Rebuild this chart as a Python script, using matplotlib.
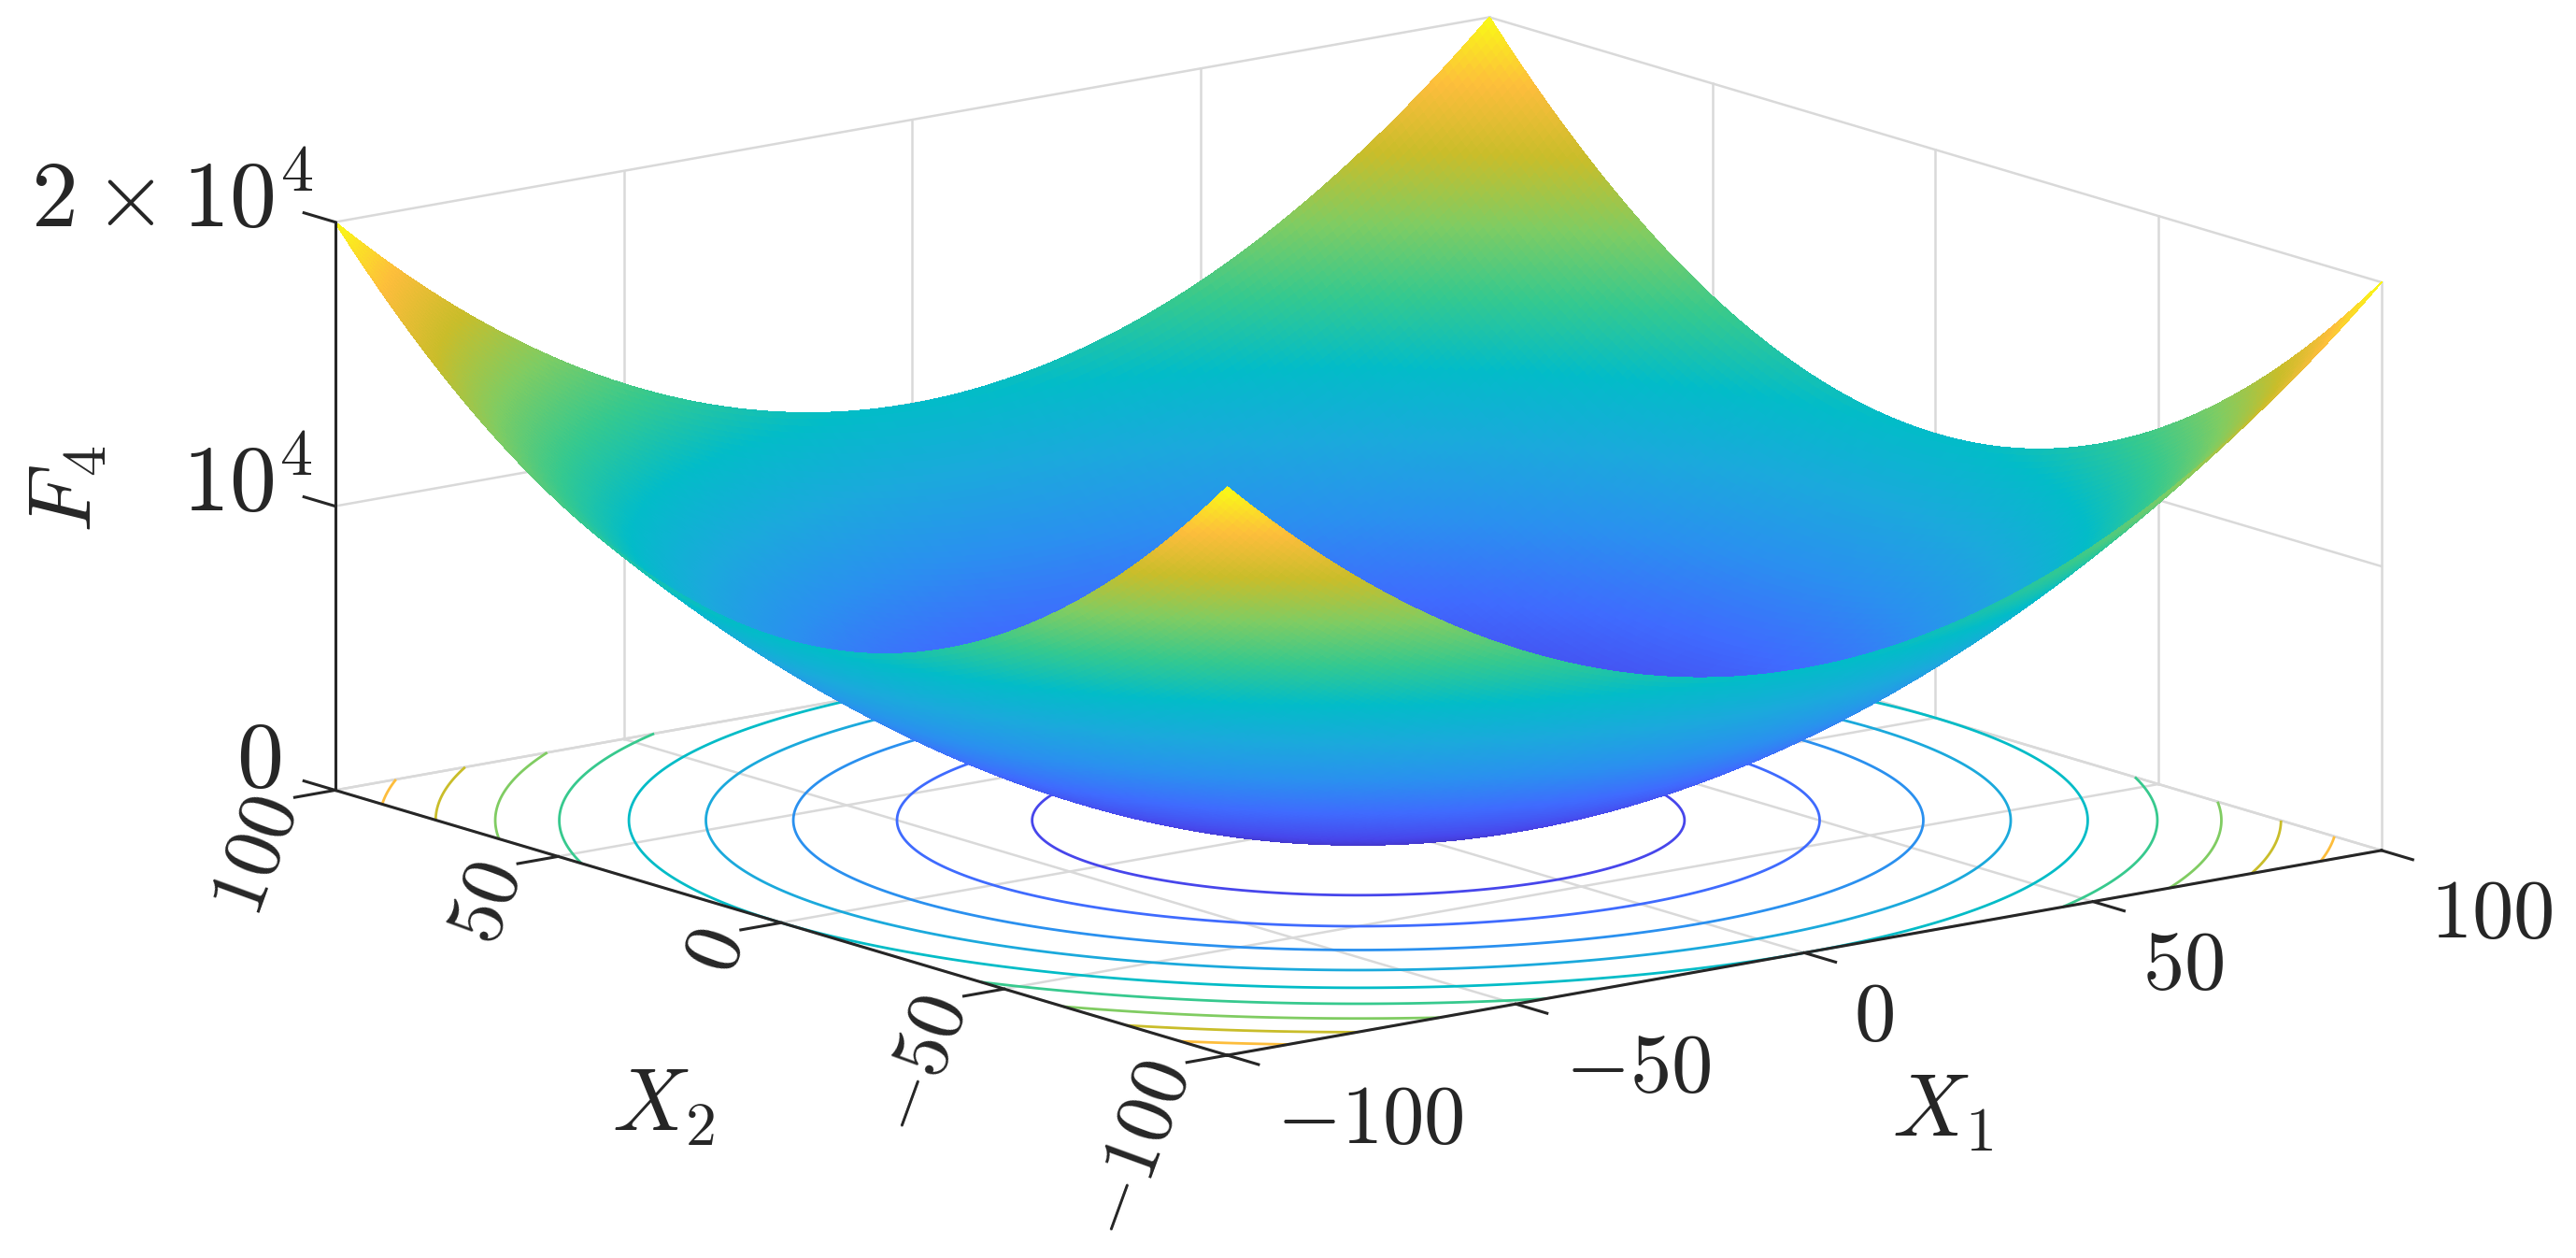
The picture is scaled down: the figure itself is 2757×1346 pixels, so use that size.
import numpy as np
import matplotlib
matplotlib.use('Agg')
import matplotlib.pyplot as plt
from matplotlib.colors import LinearSegmentedColormap, Normalize
from mpl_toolkits.mplot3d import proj3d

plt.rcParams['mathtext.fontset'] = 'cm'
plt.rcParams['font.family'] = 'DejaVu Serif'

# F4 along one axis, from the centre out to the edge, one value per unit
half_profile = [0, 1, 4, 9, 16, 25, 36, 49, 64, 81, 100, 121, 144, 169, 196, 225, 256, 289, 324, 361,
                400, 441, 484, 529, 576, 625, 676, 729, 784, 841, 900, 961, 1024, 1089, 1156, 1225,
                1296, 1369, 1444, 1521, 1600, 1681, 1764, 1849, 1936, 2025, 2116, 2209, 2304, 2401,
                2500, 2601, 2704, 2809, 2916, 3025, 3136, 3249, 3364, 3481, 3600, 3721, 3844, 3969,
                4096, 4225, 4356, 4489, 4624, 4761, 4900, 5041, 5184, 5329, 5476, 5625, 5776, 5929,
                6084, 6241, 6400, 6561, 6724, 6889, 7056, 7225, 7396, 7569, 7744, 7921, 8100, 8281,
                8464, 8649, 8836, 9025, 9216, 9409, 9604, 9801, 10000]

contour_levels = [2000, 4000, 6000, 8000, 10000, 12000, 14000, 16000, 18000]
x_ticks = [-100, -50, 0, 50, 100]
y_ticks = [-100, -50, 0, 50, 100]
z_ticks = [0, 10000, 20000]
x_labels = [r'$-100$', r'$-50$', r'$0$', r'$50$', r'$100$']
y_labels = [r'$-100$', r'$-50$', r'$0$', r'$50$', r'$100$']
z_labels = [r'$0$', r'$10^4$', r'$2\times 10^4$']

parula_colors = ['#3e26a8', '#4746eb', '#3f6bfe', '#2a90ef', '#1ba9dc', '#02bcc8',
                 '#36c98e', '#80cc62', '#c9bd2a', '#fdbd3c', '#f9fb15']
parula = LinearSegmentedColormap.from_list('parula', parula_colors, N=512)

half_coords = np.arange(len(half_profile))
coords = np.concatenate([-half_coords[:0:-1], half_coords])
profile = np.array(half_profile[:0:-1] + half_profile)
X, Y = np.meshgrid(coords, coords)
Z = profile[None, :] + profile[:, None]
Z_cell = (Z[:-1, :-1] + Z[1:, :-1] + Z[:-1, 1:] + Z[1:, 1:]) / 4
norm = Normalize(0, 20000)

W, H = 2757, 1346
fig = plt.figure(figsize=(W / 100, H / 100), dpi=100)
# 3D axes stay square, so give them a square bigger than the figure height
ax = fig.add_axes([38 / W, (H - W) / 2 / H + 62 / H, 1.0, W / H],
                  projection='3d', proj_type='ortho', computed_zorder=False)
ax.view_init(elev=13.27, azim=-127.7)
ax.set_box_aspect((1, 1, 0.4), zoom=0.808)
ax.set_xlim(-100, 100, view_margin=0)
ax.set_ylim(-100, 100, view_margin=0)
ax.set_zlim(0, 20000, view_margin=0)
ax.set_axis_off()

grid_c = '#d9d9d9'
grid_w = 1.8
for t in x_ticks:
    ax.plot([t, t], [-100, 100], [0, 0], color=grid_c, lw=grid_w, zorder=1)
    ax.plot([t, t], [100, 100], [0, 20000], color=grid_c, lw=grid_w, zorder=1)
for t in y_ticks:
    ax.plot([-100, 100], [t, t], [0, 0], color=grid_c, lw=grid_w, zorder=1)
    ax.plot([100, 100], [t, t], [0, 20000], color=grid_c, lw=grid_w, zorder=1)
for t in z_ticks:
    ax.plot([-100, 100], [100, 100], [t, t], color=grid_c, lw=grid_w, zorder=1)
    ax.plot([100, 100], [-100, 100], [t, t], color=grid_c, lw=grid_w, zorder=1)

ax.contour(X, Y, Z, levels=contour_levels, zdir='z', offset=0, cmap=parula,
           vmin=0, vmax=20000, linewidths=2.0, zorder=2)

ax.plot_surface(X, Y, Z, facecolors=parula(norm(Z_cell)), rstride=1, cstride=1,
                shade=False, linewidth=0.5, antialiased=False, zorder=3)

# axis lines and ticks
axis_c = '#262626'
ax.plot([-100, 100], [-100, -100], [0, 0], color=axis_c, lw=2.2, zorder=4)
ax.plot([-100, -100], [-100, 100], [0, 0], color=axis_c, lw=2.2, zorder=4)
ax.plot([-100, -100], [100, 100], [0, 20000], color=axis_c, lw=2.2, zorder=4)
for t in x_ticks:
    ax.plot([t, t], [-100, -107], [0, 0], color=axis_c, lw=2.2, zorder=4)
for t in y_ticks:
    ax.plot([-100, -107], [t, t], [0, 0], color=axis_c, lw=2.2, zorder=4)
for t in z_ticks:
    ax.plot([-100, -100], [100, 107], [t, t], color=axis_c, lw=2.2, zorder=4)


def label_3d(x, y, z, s, **kw):
    # Text3D drops the rotation, so project the anchor and use a plain text
    px, py, _ = proj3d.proj_transform(x, y, z, ax.get_proj())
    ax.text2D(px, py, s, transform=ax.transData, color=axis_c, **kw)


for t, lab in zip(x_ticks, x_labels):
    label_3d(t, -111, -1750, lab, fontsize=64, ha='left', va='center')
for t, lab in zip(y_ticks, y_labels):
    label_3d(-110, t, 0, lab, fontsize=62, ha='right', va='center', rotation=70,
             rotation_mode='anchor')
for t, lab in zip(z_ticks, z_labels):
    label_3d(-100, 112 if t == 0 else 105, t + 450, lab, fontsize=72, ha='right', va='center')

label_3d(3, -127, -4450, r'$X_1$', fontsize=68, ha='center', va='center')
label_3d(-122, -2, -5600, r'$X_2$', fontsize=68, ha='center', va='center')
label_3d(-100, 160, 7800, r'$F_4$', fontsize=68, ha='center', va='center', rotation=90)

fig.savefig('out.png', dpi=100)
